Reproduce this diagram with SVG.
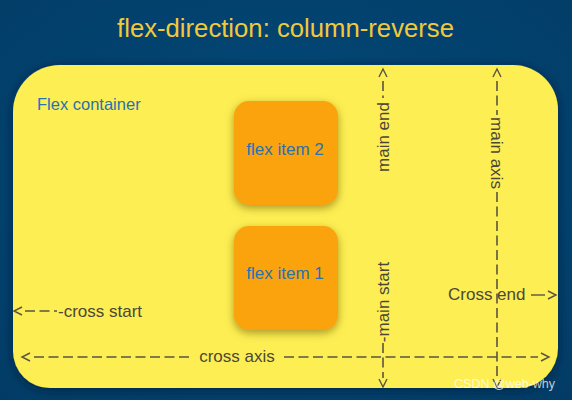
<svg xmlns="http://www.w3.org/2000/svg" width="572" height="400" viewBox="0 0 572 400">
<style>
.lbl{font-family:"Liberation Sans",Arial,sans-serif;font-size:17px;fill:#4b4738}
.item{font-family:"Liberation Sans",Arial,sans-serif;font-size:17px;fill:#2872b0;text-anchor:middle}
.dash{fill:none;stroke:#5a5440;stroke-width:1.6;stroke-dasharray:10 4.5}
.arr{fill:none;stroke:#5a5440;stroke-width:1.4}
</style>
<defs>
<radialGradient id="bg" cx="0.5" cy="0.45" r="0.75">
<stop offset="0" stop-color="#034a7a"/>
<stop offset="1" stop-color="#023c66"/>
</radialGradient>
<filter id="cshadow" x="-10%" y="-10%" width="120%" height="120%">
<feDropShadow dx="0" dy="2" stdDeviation="5" flood-color="#001a30" flood-opacity="0.7"/>
</filter>
<filter id="ishadow" x="-20%" y="-20%" width="140%" height="140%">
<feDropShadow dx="0" dy="3" stdDeviation="4.5" flood-color="#7a6a10" flood-opacity="0.65"/>
</filter>
</defs>
<rect width="572" height="400" fill="url(#bg)"/>
<text x="285.5" y="37" text-anchor="middle" style="font-family:'Liberation Sans',Arial,sans-serif;font-size:25.7px;fill:#f2c93a">flex-direction: column-reverse</text>
<g id="container">
<path d="M60,65 H513 A45,45 0 0 1 558,110 V348 A40,40 0 0 1 518,388 H50 A37,37 0 0 1 13,351 V112 A47,47 0 0 1 60,65 Z" fill="#fdee52" filter="url(#cshadow)"/>
<text x="37" y="110" style="font-family:'Liberation Sans',Arial,sans-serif;font-size:16.5px;fill:#2872b0">Flex container</text>
</g>
<g id="item2">
<rect x="234" y="101" width="104" height="104" rx="15" fill="#faa30c" filter="url(#ishadow)"/>
<text class="item" x="285" y="155">flex item 2</text>
</g>
<g id="item1">
<rect x="234" y="226" width="104" height="104" rx="15" fill="#faa30c" filter="url(#ishadow)"/>
<text class="item" x="285" y="279">flex item 1</text>
</g>
<g id="connectors">
<path class="arr" d="M379,77 L383,69 L387,77"/>
<line class="dash" x1="383" y1="81" x2="383" y2="98"/>
<text class="lbl" x="389" y="137" text-anchor="middle" transform="rotate(-90 389 137)">main end</text>
<text class="lbl" x="389" y="302" text-anchor="middle" transform="rotate(-90 389 302)">-main start</text>
<line class="dash" x1="383" y1="343" x2="383" y2="378"/>
<path class="arr" d="M379,379 L383,387 L387,379"/>
<path class="arr" d="M493,77 L497,69 L501,77"/>
<line class="dash" x1="497" y1="81" x2="497" y2="115"/>
<text class="lbl" x="491" y="153" text-anchor="middle" transform="rotate(90 491 153)">main axis</text>
<line class="dash" x1="497" y1="192" x2="497" y2="378"/>
<path class="arr" d="M493,379 L497,387 L501,379"/>
<path class="arr" d="M30,353 L22,357 L30,361"/>
<line class="dash" x1="34" y1="357" x2="190" y2="357"/>
<text class="lbl" x="237" y="362" text-anchor="middle">cross axis</text>
<line class="dash" x1="284" y1="357" x2="538" y2="357"/>
<path class="arr" d="M541,353 L549,357 L541,361"/>
<path class="arr" d="M22,307 L14,311 L22,315"/>
<line class="dash" x1="25" y1="311" x2="57" y2="311"/>
<text class="lbl" x="58" y="317">-cross start</text>
<text class="lbl" x="448" y="300">Cross end</text>
<line class="arr" x1="531" y1="295" x2="545" y2="295"/>
<path class="arr" d="M548,291 L556,295 L548,299"/>
</g>
<text x="555" y="388" text-anchor="end" style="font-family:'Liberation Sans',Arial,sans-serif;font-size:12.5px;fill:#ffffff;fill-opacity:0.75">CSDN @web-why</text>
</svg>
